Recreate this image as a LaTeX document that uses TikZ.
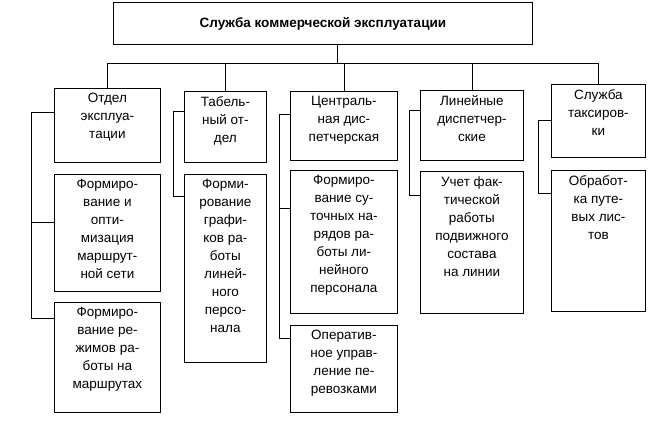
\documentclass[tikz,border=0pt]{standalone}
\usepackage{fontspec}
\setmainfont{Liberation Sans}
\usetikzlibrary{positioning}
\tikzset{box/.style = {draw, thick, align=center, inner sep=0pt, font=\fontsize{13.5}{18}\selectfont, anchor=north west}}
\tikzset{link/.style = {thick}}
\newcommand{\cellbox}[3]{\begin{minipage}[t][#2pt][t]{#1pt}\centering\vspace{5pt}#3\end{minipage}}

\begin{document}
\begin{tikzpicture}[x=1pt,y=-1pt]
            \useasboundingbox (0,0) rectangle (653,443);
            % Top
            \node[box, minimum width=419, minimum height=42, font=\bfseries\fontsize{13.5}{18}\selectfont] (top) at (113,2) {Служба коммерческой эксплуатации};

            % Headers
            \node[box] (h1) at (54,88) {\cellbox{106}{74}{Отдел\\эксплуа-\\тации}};
            \node[box] (h2) at (184,91) {\cellbox{82}{71}{Табель-\\ный от-\\дел}};
            \node[box] (h3) at (290,91) {\cellbox{107}{69}{Централь-\\ная дис-\\петчерская}};
            \node[box] (h4) at (420,90) {\cellbox{103}{70}{Линейные\\диспетчер-\\ские}};
            \node[box] (h5) at (551,84) {\cellbox{94}{73}{Служба\\таксиров-\\ки}};

            % Tasks
            \node[box] (t11) at (54,174) {\cellbox{106}{117}{Формиро-\\вание и\\опти-\\мизация\\маршрут-\\ной сети}};
            \node[box] (t12) at (54,302) {\cellbox{106}{110}{Формиро-\\вание ре-\\жимов ра-\\боты на\\маршрутах}};
            \node[box] (t21) at (184,174) {\cellbox{82}{188}{Форми-\\рование\\графи-\\ков ра-\\боты\\линей-\\ного\\персо-\\нала}};
            \node[box] (t31) at (290,170) {\cellbox{107}{143}{Формиро-\\вание су-\\точных на-\\рядов ра-\\боты ли-\\нейного\\персонала}};
            \node[box] (t32) at (290,325) {\cellbox{107}{87}{Оператив-\\ное управ-\\ление пе-\\ревозками}};
            \node[box] (t41) at (420,171) {\cellbox{103}{142}{Учет фак-\\тической\\работы\\подвижного\\состава\\на линии}};
            \node[box] (t51) at (551,170) {\cellbox{94}{141}{Обработ-\\ка путе-\\вых лис-\\тов}};

            % Links
            \coordinate (bus) at (337,63);
            \draw[link] (top.south -| bus) -- (bus);
            \draw[link] (h1.north) |- (h5.north |- bus) -- (h5.north);
            \draw[link] (h2.north |- bus) -- (h2.north);
            \draw[link] (h3.north |- bus) -- (h3.north);
            \draw[link] (h4.north |- bus) -- (h4.north);

            % Column 1
            \draw[link] (h1.west |- 0,112) -| (31,318) -- (t12.west |- 0,318);
            \draw[link] (31,222) -- (t11.west |- 0,222);
            % Column 2
            \draw[link] (h2.west |- 0,111) -| (173,196) -- (t21.west |- 0,196);
            % Column 3
            \draw[link] (h3.west |- 0,114) -| (279,338) -- (t32.west |- 0,338);
            \draw[link] (279,208) -- (t31.west |- 0,208);
            % Column 4
            \draw[link] (h4.west |- 0,110) -| (409,195) -- (t41.west |- 0,195);
            % Column 5
            \draw[link] (h5.west |- 0,120) -| (538,193) -- (t51.west |- 0,193);
\end{tikzpicture}
\end{document}
